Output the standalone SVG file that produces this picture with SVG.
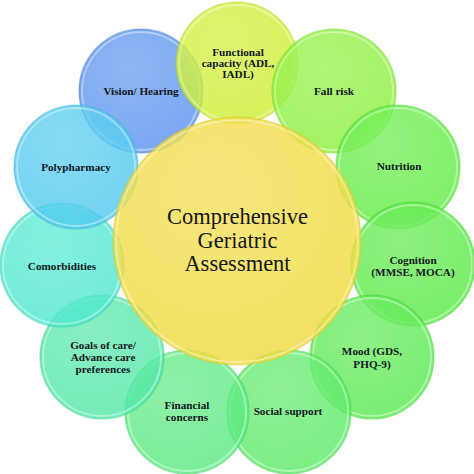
<svg xmlns="http://www.w3.org/2000/svg" width="474" height="474" viewBox="0 0 474 474">
<defs>
<radialGradient id="gloss" cx="0.4" cy="0.3" r="0.75">
<stop offset="0" stop-color="#ffffff" stop-opacity="0.15"/>
<stop offset="1" stop-color="#ffffff" stop-opacity="0"/>
</radialGradient>
</defs>
<style>
.c{fill-opacity:0.8;stroke-opacity:0.5;stroke-width:1.2}
.rim{fill:url(#gloss);stroke:#ffffff;stroke-opacity:0.4;stroke-width:1.8}
.t{font-weight:bold;font-size:11.2px;fill:#111822;text-anchor:middle}
.m{font-size:22.5px;fill:#151515;text-anchor:middle}
</style>
<rect width="474" height="474" fill="#ffffff"/>
<g id="vision">
<circle class="c" cx="141" cy="91" r="62" fill="#5992EF" stroke="#4a7fd8"/>
<circle class="rim" cx="141" cy="91" r="59"/>
<text class="t" font-family="Liberation Serif, DejaVu Serif, Times New Roman, serif" x="141" y="95">Vision/ Hearing</text>
</g>
<g id="functional">
<circle class="c" cx="237" cy="63" r="61" fill="#CEEF31" stroke="#b5d22a"/>
<circle class="rim" cx="237" cy="63" r="58"/>
<text class="t" font-family="Liberation Serif, DejaVu Serif, Times New Roman, serif" x="238" y="56">Functional</text>
<text class="t" font-family="Liberation Serif, DejaVu Serif, Times New Roman, serif" x="238" y="67">capacity (ADL,</text>
<text class="t" font-family="Liberation Serif, DejaVu Serif, Times New Roman, serif" x="238" y="78">IADL)</text>
</g>
<g id="fallrisk">
<circle class="c" cx="334" cy="91" r="62" fill="#8BEF3B" stroke="#78d532"/>
<circle class="rim" cx="334" cy="91" r="59"/>
<text class="t" font-family="Liberation Serif, DejaVu Serif, Times New Roman, serif" x="334" y="95">Fall risk</text>
</g>
<g id="nutrition">
<circle class="c" cx="398" cy="167" r="62" fill="#60EC42" stroke="#52d238"/>
<circle class="rim" cx="398" cy="167" r="59"/>
<text class="t" font-family="Liberation Serif, DejaVu Serif, Times New Roman, serif" x="399" y="170">Nutrition</text>
</g>
<g id="cognition">
<circle class="c" cx="413" cy="264" r="62" fill="#59EA45" stroke="#4bd03a"/>
<circle class="rim" cx="413" cy="264" r="59"/>
<text class="t" font-family="Liberation Serif, DejaVu Serif, Times New Roman, serif" x="413" y="264">Cognition</text>
<text class="t" font-family="Liberation Serif, DejaVu Serif, Times New Roman, serif" x="413" y="276">(MMSE, MOCA)</text>
</g>
<g id="mood">
<circle class="c" cx="372" cy="357" r="62" fill="#59EA4F" stroke="#4bd043"/>
<circle class="rim" cx="372" cy="357" r="59"/>
<text class="t" font-family="Liberation Serif, DejaVu Serif, Times New Roman, serif" x="372" y="355">Mood (GDS,</text>
<text class="t" font-family="Liberation Serif, DejaVu Serif, Times New Roman, serif" x="372" y="368">PHQ-9)</text>
</g>
<g id="social">
<circle class="c" cx="289" cy="412" r="62" fill="#5BEA65" stroke="#4dd057"/>
<circle class="rim" cx="289" cy="412" r="59"/>
<text class="t" font-family="Liberation Serif, DejaVu Serif, Times New Roman, serif" x="288" y="415">Social support</text>
</g>
<g id="financial">
<circle class="c" cx="187" cy="412" r="62" fill="#59EA7E" stroke="#4bd06e"/>
<circle class="rim" cx="187" cy="412" r="59"/>
<text class="t" font-family="Liberation Serif, DejaVu Serif, Times New Roman, serif" x="187" y="409">Financial</text>
<text class="t" font-family="Liberation Serif, DejaVu Serif, Times New Roman, serif" x="187" y="421">concerns</text>
</g>
<g id="goals">
<circle class="c" cx="102" cy="357" r="62" fill="#51E7A6" stroke="#44cd92"/>
<circle class="rim" cx="102" cy="357" r="59"/>
<text class="t" font-family="Liberation Serif, DejaVu Serif, Times New Roman, serif" x="103" y="349">Goals of care/</text>
<text class="t" font-family="Liberation Serif, DejaVu Serif, Times New Roman, serif" x="103" y="361">Advance care</text>
<text class="t" font-family="Liberation Serif, DejaVu Serif, Times New Roman, serif" x="103" y="373">preferences</text>
</g>
<g id="comorbidities">
<circle class="c" cx="62" cy="265" r="62" fill="#4CE7CE" stroke="#40ccb5"/>
<circle class="rim" cx="62" cy="265" r="59"/>
<text class="t" font-family="Liberation Serif, DejaVu Serif, Times New Roman, serif" x="62" y="270">Comorbidities</text>
</g>
<g id="polypharmacy">
<circle class="c" cx="76" cy="167" r="62" fill="#4FC9EF" stroke="#43b1d6"/>
<circle class="rim" cx="76" cy="167" r="59"/>
<text class="t" font-family="Liberation Serif, DejaVu Serif, Times New Roman, serif" x="76" y="171">Polypharmacy</text>
</g>
<g id="center">
<circle class="c" cx="237" cy="241" r="124" fill="#F1DB3D" stroke="#d9c236"/>
<circle class="rim" cx="237" cy="241" r="121"/>
<text class="m" font-family="Liberation Serif, DejaVu Serif, Times New Roman, serif" x="237.5" y="224">Comprehensive</text>
<text class="m" font-family="Liberation Serif, DejaVu Serif, Times New Roman, serif" x="237.5" y="248">Geriatric</text>
<text class="m" font-family="Liberation Serif, DejaVu Serif, Times New Roman, serif" x="237.5" y="271">Assessment</text>
</g>
</svg>
